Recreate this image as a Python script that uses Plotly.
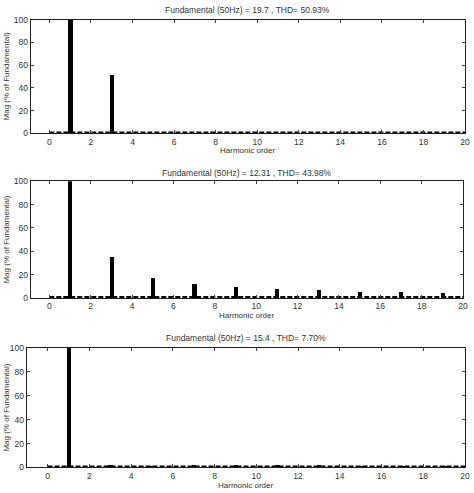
import plotly.graph_objects as go

W, H = 474, 493

orders = [1, 3, 5, 7, 9, 11, 13, 15, 17, 19]
mag1 = [100, 51.5, 0, 0, 0, 0, 0, 0, 0, 0]
mag2 = [100, 35, 16.8, 12.0, 9.3, 7.5, 6.3, 5.1, 4.5, 4.2]
mag3 = [100, 2.5, 1.6, 2.5, 2.2, 1.8, 1.8, 1.6, 1.6, 1.6]
titles = [
    "Fundamental (50Hz) = 19.7 , THD= 50.93%",
    "Fundamental (50Hz) = 12.31 , THD= 43.98%",
    "Fundamental (50Hz) = 15.4 , THD= 7.70%",
]
noise_x = [0, 20]
noise_level = [0.8, 0.8]
xticks = list(range(0, 21, 2))
yticks = [0, 20, 40, 60, 80, 100]

# panel boxes in pixels: left, right, top, bottom, xmin
boxes = [
    (31, 470, 15, 131, -0.9),
    (31, 468, 180, 299, -0.9),
    (27, 470, 350, 472, -1.0),
]
title_y = [5, 171, 340]
xlab_y = [149, 317, 490]

fig = go.Figure()
fam = "Liberation Sans, Arial, sans-serif"
txt = dict(family=fam, size=8.5, color="#333")
for i, (mags, (l, r, t, b, xmin)) in enumerate(zip([mag1, mag2, mag3], boxes)):
    n = "" if i == 0 else str(i + 1)
    fig.add_trace(go.Bar(x=orders, y=mags, width=0.2, marker=dict(color="black", line=dict(width=0)),
                         xaxis="x" + n, yaxis="y" + n, showlegend=False))
    fig.add_trace(go.Scatter(x=noise_x, y=noise_level, mode="lines",
                             line=dict(color="black", width=2, dash="5px,2px"),
                             xaxis="x" + n, yaxis="y" + n, showlegend=False))
    ax = dict(domain=[l / W, r / W], range=[xmin, 20], tickvals=xticks, ticks="inside", ticklen=3,
              mirror="ticks", showline=True, linecolor="#222", linewidth=1, showgrid=False,
              zeroline=False, tickfont=txt, anchor="y" + n, ticklabeloverflow="allow")
    ay = dict(domain=[1 - b / H, 1 - t / H], range=[0, 100], tickvals=yticks, ticks="inside", ticklen=3,
              mirror="ticks", showline=True, linecolor="#222", linewidth=1, showgrid=False,
              zeroline=False, tickfont=txt, anchor="x" + n, ticklabeloverflow="allow")
    fig.update_layout(**{"xaxis" + n: ax, "yaxis" + n: ay})
    fig.add_annotation(text=titles[i], x=(l + r) / 2 / W, y=1 - title_y[i] / H, xref="paper", yref="paper",
                       showarrow=False, font=dict(family=fam, size=8.5, color="#333"),
                       xanchor="center", yanchor="middle")
    fig.add_annotation(text="Harmonic order", x=(l + r) / 2 / W, y=1 - xlab_y[i] / H, xref="paper",
                       yref="paper", showarrow=False, font=dict(family=fam, size=8, color="#333"),
                       xanchor="center", yanchor="middle")
    fig.add_annotation(text="Mag (% of Fundamental)", x=7 / W, y=1 - (t + b) / 2 / H, xref="paper",
                       yref="paper", showarrow=False, textangle=-90,
                       font=dict(family=fam, size=8, color="#333"),
                       xanchor="center", yanchor="middle")

fig.update_layout(width=W, height=H, margin=dict(l=0, r=0, t=0, b=0), plot_bgcolor="white",
                  paper_bgcolor="white", bargap=0)
fig.write_html("out.html", config={"displayModeBar": False},
               post_script="document.body.style.margin='0';document.body.style.overflow='hidden';")
